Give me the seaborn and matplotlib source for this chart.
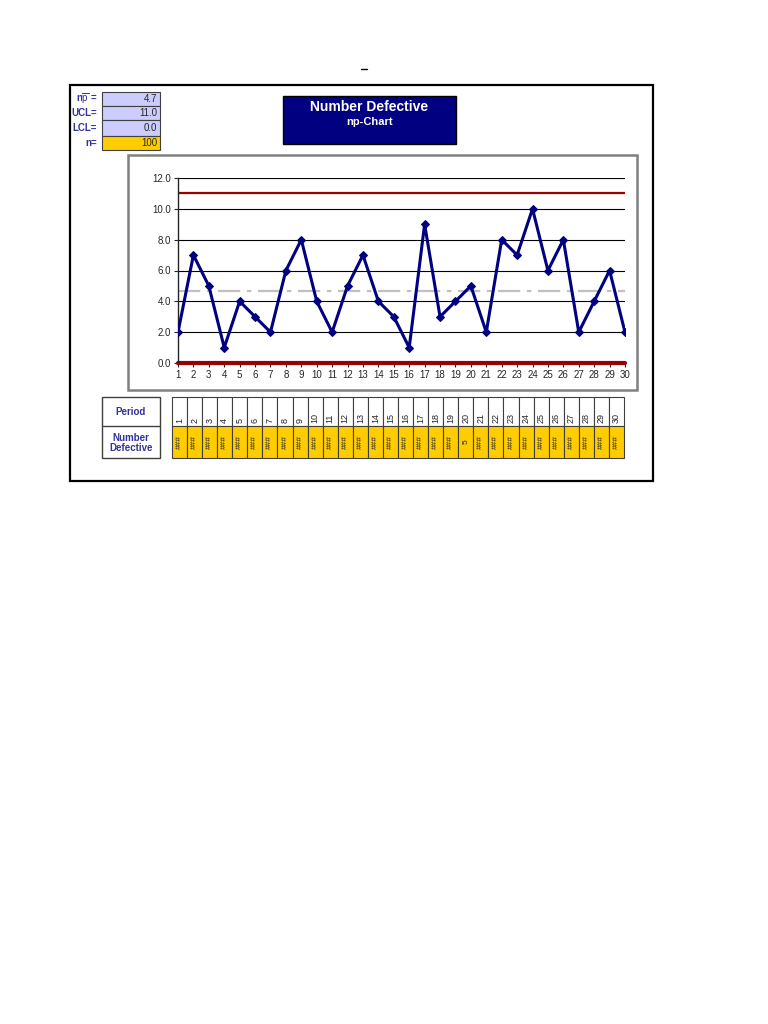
import numpy as np
import pandas as pd
import seaborn as sns
import matplotlib.pyplot as plt
from matplotlib.patches import Rectangle

periods = list(range(1, 31))
defects = [2, 7, 5, 1, 4, 3, 2, 6, 8, 4, 2, 5, 7, 4, 3, 1, 9, 3, 4, 5,
           2, 8, 7, 10, 6, 8, 2, 4, 6, 2]
shown = ["###"] * 30
shown[19] = "5"
n_size = 100
ucl = 11.0
lcl = 0.0
np_bar = np.mean(defects)

df = pd.DataFrame({"Period": periods, "Defective": defects})

sns.set_style("white")
plt.rcParams["font.family"] = ["Liberation Sans", "DejaVu Sans"]
plt.rcParams["mathtext.fontset"] = "custom"
plt.rcParams["mathtext.rm"] = "Liberation Sans"
plt.rcParams["mathtext.it"] = "Liberation Sans"

W, H = 768, 1024
fig = plt.figure(figsize=(W / 100, H / 100), dpi=100)
navy = "#000080"
label_blue = "#333399"
gold = "#FFCC00"
lav = "#CCCCFF"


def px_axes(x0, y0, x1, y1, **kw):
    return fig.add_axes([x0 / W, 1 - y1 / H, (x1 - x0) / W, (y1 - y0) / H], **kw)


# background axes in pixel coordinates
bg = fig.add_axes([0, 0, 1, 1])
bg.set_xlim(0, W)
bg.set_ylim(H, 0)
bg.axis("off")

bg.add_patch(Rectangle((70, 85), 583, 396, fill=False, ec="black", lw=1.6))
bg.plot([361, 367], [69, 69], color="black", lw=1)

# parameter block
param_labels = [r"n$\overline{p}$ =", "UCL=", "LCL=", "n="]
param_vals = [f"{np_bar:.1f}", f"{ucl:.1f}", f"{lcl:.1f}", f"{n_size}"]
row_y = [92, 106, 120, 136, 150]
for i, (lab, val) in enumerate(zip(param_labels, param_vals)):
    y0, y1 = row_y[i], row_y[i + 1]
    fc = gold if i == 3 else lav
    bg.add_patch(Rectangle((102, y0), 58, y1 - y0, fc=fc, ec="#404040", lw=0.8))
    bg.text(157, (y0 + y1) / 2, val, ha="right", va="center", fontsize=7)
    bg.text(97, (y0 + y1) / 2, lab, ha="right", va="center", fontsize=7,
            color=label_blue, fontweight="bold")

# title box
bg.add_patch(Rectangle((283, 96), 173, 48, fc=navy, ec="black", lw=1))
bg.text(369.5, 107, "Number Defective", ha="center", va="center",
        fontsize=10, fontweight="bold", color="white")
bg.text(369.5, 122, "np-Chart", ha="center", va="center",
        fontsize=8, fontweight="bold", color="white")

# chart area frame
bg.add_patch(Rectangle((128, 155), 509, 235, fill=False, ec="#808080", lw=1.8))

# plot area
ax = px_axes(178, 178, 625, 363)
for y in range(2, 13, 2):
    ax.axhline(y, color="black", lw=0.8, zorder=1)
ax.axhline(ucl, color="#990000", lw=1.6, zorder=2)
ax.axhline(lcl, color="#990000", lw=3, zorder=2, clip_on=False)
ax.axhline(np_bar, color="#C0C0C0", lw=1.6, ls=(0, (10, 3, 2, 3)), zorder=2)
sns.lineplot(data=df, x="Period", y="Defective", ax=ax, color=navy, lw=2.2,
             marker="D", markersize=4, markeredgecolor=navy, zorder=3)
ax.set_xlim(1, 30)
ax.set_ylim(0, 12)
ax.set_xticks(periods)
ax.set_yticks(np.arange(0, 13, 2))
ax.set_yticklabels([f"{v:.1f}" for v in np.arange(0, 13, 2)])
ax.tick_params(labelsize=7, length=3, width=0.8, direction="out", pad=2,
               left=True, bottom=True)
ax.set_xlabel("")
ax.set_ylabel("")
for side in ["top", "right"]:
    ax.spines[side].set_visible(False)
ax.spines["left"].set_linewidth(1)
ax.spines["bottom"].set_visible(False)

# data table
bg.add_patch(Rectangle((102, 397), 58, 61, fc="white", ec="#404040", lw=1))
bg.plot([102, 160], [426, 426], color="#404040", lw=1)
bg.text(131, 412, "Period", ha="center", va="center", fontsize=7,
        color=label_blue, fontweight="bold")
bg.text(131, 443, "Number\nDefective", ha="center", va="center", fontsize=7,
        color=label_blue, fontweight="bold", linespacing=1.0)
x_left, x_right = 172, 624
cw = (x_right - x_left) / len(periods)
for i, (p, s) in enumerate(zip(periods, shown)):
    x0 = x_left + i * cw
    bg.add_patch(Rectangle((x0, 397), cw, 29, fc="white", ec="#404040", lw=0.8))
    bg.add_patch(Rectangle((x0, 426), cw, 32, fc=gold, ec="#404040", lw=0.8))
    bg.text(x0 + cw / 2, 423, str(p), ha="center", va="bottom", rotation=90,
            fontsize=6.5)
    bg.text(x0 + cw / 2, 442, s, ha="center", va="center", rotation=90,
            fontsize=6)

fig.savefig("out.png", dpi=100)
plt.close(fig)
